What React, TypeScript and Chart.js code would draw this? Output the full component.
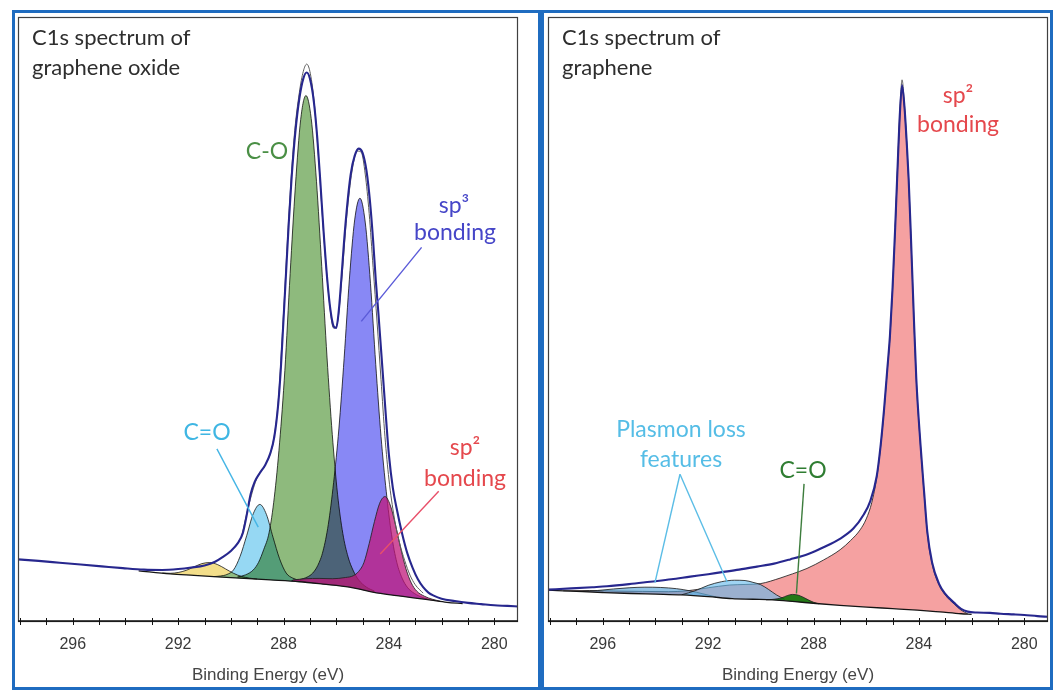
import React, { useEffect, useRef } from 'react';
import { Chart, registerables } from 'chart.js';

Chart.register(...registerables);

// ---------- axis ----------
const xMin = 279.1;
const xMax = 298.08;
const xTickValues = [280, 281, 282, 283, 284, 285, 286, 287, 288, 289, 290, 291, 292, 293, 294, 295, 296, 297, 298];
const xTickLabels = [280, 284, 288, 292, 296];
const xTitle = 'Binding Energy (eV)';

// ---------- graphene oxide (left panel) ----------
const goEnvelopeE = [298.08, 297.3, 296.5, 295.7, 294.9, 294.1, 293.3, 292.6, 292.0, 291.5, 291.0, 290.6, 290.3, 290.0, 289.75, 289.55, 289.4, 289.25, 289.1, 288.9, 288.7, 288.5, 288.35, 288.2, 288.1, 288.0, 287.9, 287.8, 287.7, 287.55, 287.4, 287.25, 287.12, 287.0, 286.85, 286.72, 286.6, 286.48, 286.35, 286.22, 286.1, 286.0, 285.9, 285.8, 285.7, 285.58, 285.45, 285.3, 285.15, 285.0, 284.85, 284.72, 284.6, 284.5, 284.4, 284.3, 284.2, 284.1, 284.0, 283.85, 283.7, 283.5, 283.3, 283.1, 282.9, 282.7, 282.5, 282.3, 282.0, 281.5, 281.0, 280.5, 280.0, 279.5, 279.1];
const goEnvelopeI = [10.2, 9.95, 9.65, 9.35, 9.05, 8.75, 8.5, 8.45, 8.6, 8.85, 9.2, 9.8, 10.6, 11.6, 12.8, 14.5, 17.5, 21.0, 23.0, 24.5, 25.8, 27.8, 30.5, 36, 42, 50, 58, 66, 73, 81, 86.5, 89.8, 90.8, 89.8, 86, 80, 72.5, 64.5, 57, 51.5, 48.8, 48.5, 51.5, 57, 63, 69, 74, 77, 78.2, 77.5, 74.5, 69.5, 63, 56.5, 51, 45, 39, 33, 27.5, 22, 18.5, 14.5, 11.2, 8.8, 6.9, 5.6, 4.7, 4.2, 3.7, 3.3, 3.0, 2.8, 2.6, 2.5, 2.4];

const goFitE = [289.6, 289.3, 289.0, 288.7, 288.4, 288.2, 288.0, 287.8, 287.6, 287.4, 287.25, 287.12, 287.0, 286.85, 286.7, 286.5, 286.3, 286.1, 285.95, 285.8, 285.6, 285.4, 285.2, 285.05, 284.9, 284.75, 284.6, 284.45, 284.3, 284.15, 284.0, 283.8, 283.6, 283.4, 283.2, 283.0, 282.7];
const goFitI = [13.8, 19.5, 23.8, 25.8, 29.5, 36.5, 51, 67, 80, 87.5, 91.0, 92.2, 91.0, 86.5, 78.5, 65.5, 54.5, 48.5, 49.5, 56, 67, 74.5, 77.8, 77.6, 74, 67.5, 58.5, 49.5, 40, 30.5, 23.5, 17.2, 13.0, 10.0, 7.6, 6.0, 4.6];

const goBackgroundE = [293.5, 292.3, 291.4, 290.5, 289.5, 288.5, 287.4, 286.5, 285.5, 285.0, 284.4, 283.7, 283.0, 282.4, 281.8, 281.2];
const goBackgroundI = [8.3, 7.8, 7.55, 7.3, 7.05, 6.8, 6.5, 6.1, 5.6, 5.15, 4.6, 4.2, 3.8, 3.45, 3.1, 2.9];

const goSp2E = [287.65, 287.15, 286.65, 286.15, 285.65, 285.35, 285.15, 284.95, 284.75, 284.55, 284.35, 284.15, 283.95, 283.75, 283.55, 283.35, 283.15, 282.95, 282.65, 282.35, 282.05];
const goSp2I = [6.8, 7.0, 7.05, 7.0, 7.2, 7.5, 8.2, 9.65, 12.8, 16.45, 19.5, 20.6, 19.2, 15.9, 12.0, 8.6, 6.3, 4.97, 4.1, 3.6, 3.28];

const goCdoubleOE = [290.65, 290.4, 290.15, 289.9, 289.65, 289.4, 289.15, 288.9, 288.65, 288.4, 288.15, 287.9, 287.65, 287.4, 287.15];
const goCdoubleOI = [7.35, 7.45, 7.7, 8.45, 10.69, 14.12, 17.76, 19.3, 17.64, 13.87, 10.3, 7.94, 7.1, 6.75, 6.5];

const goCOE = [289.75, 289.45, 289.15, 288.95, 288.75, 288.55, 288.35, 288.15, 287.95, 287.75, 287.55, 287.35, 287.15, 286.95, 286.75, 286.55, 286.35, 286.15, 285.95, 285.75, 285.55, 285.35, 285.15, 284.85, 284.55];
const goCOI = [7.3, 7.63, 8.45, 9.7, 11.86, 14.6, 20.5, 29.5, 41.5, 57.5, 72.0, 83.0, 87.0, 83.2, 72.8, 58.7, 43.7, 30.9, 21.0, 14.5, 10.6, 8.3, 6.8, 5.6, 4.95];

const goSp3E = [287.7, 287.4, 287.1, 286.9, 286.7, 286.5, 286.3, 286.1, 285.9, 285.7, 285.5, 285.3, 285.1, 284.9, 284.7, 284.5, 284.3, 284.1, 283.9, 283.7, 283.5, 283.3, 283.1, 282.8, 282.5];
const goSp3I = [6.66, 6.85, 7.28, 7.9, 9.2, 11.6, 16.0, 22.9, 31.8, 43.5, 56.6, 66.4, 70.0, 66.05, 55.9, 42.5, 30.55, 21.4, 14.3, 9.7, 7.1, 5.58, 4.76, 4.03, 3.6];

const goExtraE = [292.6, 292.3, 292.0, 291.7, 291.4, 291.1, 290.8, 290.5, 290.2, 289.9, 289.6, 289.3, 289.0];
const goExtraI = [7.95, 7.9, 8.03, 8.38, 8.95, 9.5, 9.68, 9.33, 8.62, 7.9, 7.38, 7.1, 6.95];

// ---------- graphene (right panel) ----------
const grEnvelopeE = [298.08, 297.2, 296.4, 295.84, 295.0, 294.2, 293.4, 292.68, 292.0, 291.54, 290.83, 290.15, 289.5, 288.89, 288.2, 287.62, 287.0, 286.49, 286.1, 285.85, 285.6, 285.45, 285.32, 285.2, 285.1, 285.0, 284.9, 284.8, 284.72, 284.64, 284.55, 284.45, 284.39, 284.3, 284.2, 284.1, 283.94, 283.8, 283.68, 283.5, 283.24, 283.0, 282.66, 282.4, 282.15, 281.8, 281.3, 280.9, 280.4, 280.0, 279.5, 279.1];
const grEnvelopeI = [5.2, 5.4, 5.6, 5.75, 6.1, 6.5, 6.9, 7.35, 7.75, 8.05, 8.5, 9.0, 9.5, 10.2, 11.1, 12.2, 13.6, 15.3, 17.6, 19.8, 24.0, 29.2, 35.2, 41.7, 47.2, 55.2, 65.2, 76.2, 84.2, 88.7, 85.2, 78.2, 73.2, 63.2, 51.2, 40.2, 29.2, 21.2, 14.7, 9.7, 6.2, 4.5, 3.0, 2.0, 1.55, 1.4, 1.35, 1.2, 1.1, 1.0, 0.8, 0.7];

const grFitE = [284.9, 284.8, 284.72, 284.64, 284.55, 284.45];
const grFitI = [65.3, 76.5, 84.8, 89.6, 85.5, 78.3];

const grBackgroundE = [298.08, 297.0, 296.0, 294.92, 294.0, 293.0, 292.0, 291.09, 290.3, 289.55, 288.7, 287.9, 287.0, 285.98, 285.0, 284.06, 283.2, 282.4, 282.0];
const grBackgroundI = [5.1, 4.9, 4.72, 4.55, 4.45, 4.33, 4.05, 3.7, 3.6, 3.5, 3.2, 2.9, 2.6, 2.3, 2.05, 1.8, 1.5, 1.2, 1.1];

const grSp2E = [297.5, 296.5, 295.5, 294.5, 293.5, 292.8, 292.0, 291.2, 290.6, 290.0, 289.27, 288.8, 288.25, 287.62, 286.99, 286.6, 286.23, 286.0, 285.79, 285.6, 285.45, 285.32, 285.2, 285.1, 285.0, 284.9, 284.8, 284.72, 284.64, 284.55, 284.45, 284.39, 284.3, 284.2, 284.1, 283.94, 283.8, 283.68, 283.5, 283.24, 283.0, 282.66, 282.4, 282.15];
const grSp2I = [5.0, 5.05, 4.95, 4.9, 4.85, 5.0, 5.5, 5.95, 6.05, 6.2, 7.1, 7.8, 8.7, 10.1, 11.8, 13.3, 15.1, 16.9, 19.6, 23.8, 29.0, 35.0, 41.5, 47.0, 55.0, 65.0, 76.0, 84.0, 88.4, 85.0, 78.0, 73.0, 63.0, 51.0, 40.0, 29.0, 21.0, 14.5, 9.5, 6.0, 4.3, 2.8, 1.8, 1.2];

const grPlasmonAE = [296.8, 296.2, 295.6, 295.0, 294.4, 293.8, 293.2, 292.7, 292.2, 291.7];
const grPlasmonAI = [4.9, 5.05, 5.3, 5.5, 5.6, 5.55, 5.35, 5.0, 4.5, 3.98];

const grPlasmonBE = [293.0, 292.5, 292.0, 291.5, 291.0, 290.6, 290.3, 290.0, 289.7, 289.4, 289.1];
const grPlasmonBI = [4.35, 5.0, 5.9, 6.5, 6.75, 6.7, 6.4, 6.0, 5.2, 4.3, 3.6];

const grCdoubleOE = [289.8, 289.5, 289.2, 289.0, 288.8, 288.6, 288.4, 288.2, 288.0, 287.8];
const grCdoubleOI = [3.5, 3.6, 3.85, 4.2, 4.4, 4.3, 3.95, 3.5, 3.1, 2.85];

// ---------- annotation leader lines (data coordinates) ----------
const goLeaderLines = [
  { e1: 282.76, i1: 61.85, e2: 285.05, i2: 49.6, color: '#5a5ad8' },
  { e1: 290.53, i1: 28.5, e2: 288.96, i2: 15.55, color: '#45b5e5' },
  { e1: 282.11, i1: 21.47, e2: 284.33, i2: 11.09, color: '#e8506a' },
];
const grLeaderLines = [
  { e1: 293.07, i1: 24.3, e2: 294.02, i2: 6.36, color: '#5bbde6' },
  { e1: 293.07, i1: 24.3, e2: 291.28, i2: 6.46, color: '#5bbde6' },
  { e1: 288.36, i1: 22.7, e2: 288.65, i2: 4.55, color: '#3d7d3d' },
];

const pts = (e: number[], v: number[]) => e.map((x, i) => ({ x, y: v[i] }));

const OUTLINE = 'rgba(35,35,35,0.85)';

function lineDs(e: number[], v: number[], color: string, width: number, order: number) {
  return {
    data: pts(e, v),
    borderColor: color,
    borderWidth: width,
    pointRadius: 0,
    fill: false,
    cubicInterpolationMode: 'monotone',
    order,
  };
}
function peakDs(e: number[], v: number[], fillColor: string, order: number) {
  return {
    data: pts(e, v),
    borderColor: OUTLINE,
    borderWidth: 1,
    backgroundColor: fillColor,
    pointRadius: 0,
    fill: 2,
    cubicInterpolationMode: 'monotone',
    order,
  };
}

function goDatasets() {
  return [
    lineDs(goEnvelopeE, goEnvelopeI, '#27278e', 2.1, 0),
    lineDs(goFitE, goFitI, '#5c5c5c', 1, 1),
    lineDs(goBackgroundE, goBackgroundI, '#151515', 1.3, 2),
    peakDs(goSp2E, goSp2I, 'rgba(192,22,122,0.74)', 3),
    peakDs(goCdoubleOE, goCdoubleOI, 'rgb(150,216,243)', 4),
    peakDs(goCOE, goCOI, 'rgb(142,186,125)', 5),
    peakDs(goSp3E, goSp3I, 'rgb(136,136,245)', 6),
    peakDs(goExtraE, goExtraI, 'rgb(243,222,138)', 7),
  ];
}
function grDatasets() {
  return [
    lineDs(grEnvelopeE, grEnvelopeI, '#27278e', 2.1, 0),
    lineDs(grFitE, grFitI, '#5c5c5c', 1, 1),
    lineDs(grBackgroundE, grBackgroundI, '#151515', 1.3, 2),
    peakDs(grCdoubleOE, grCdoubleOI, 'rgba(0,115,0,0.85)', 3),
    peakDs(grPlasmonBE, grPlasmonBI, 'rgba(100,185,235,0.62)', 4),
    peakDs(grPlasmonAE, grPlasmonAI, 'rgba(80,160,215,0.62)', 5),
    peakDs(grSp2E, grSp2I, 'rgba(240,110,110,0.65)', 6),
  ];
}

// the lower component fills combine multiplicatively (as overlapping fills do in the reference);
// from the dataset after `switchAfter` on, normal painting is used again
function makeBlendPlugin(multiply: boolean, switchAfter: number) {
  return {
    id: 'blendFills',
    beforeDatasetsDraw(chart: any) {
      chart.ctx.save();
      if (multiply) chart.ctx.globalCompositeOperation = 'multiply';
    },
    afterDatasetDraw(chart: any, args: any) {
      if (args.index === switchAfter) chart.ctx.globalCompositeOperation = 'source-over';
    },
    afterDatasetsDraw(chart: any) {
      chart.ctx.restore();
    },
  };
}

const framePlugin = {
  id: 'frameTicks',
  afterDraw(chart: any) {
    const { ctx, chartArea: a, scales } = chart;
    const xs = scales.x;
    ctx.save();
    ctx.strokeStyle = '#404040';
    ctx.lineWidth = 1.2;
    ctx.strokeRect(a.left + 0.5, a.top + 0.5, a.right - a.left - 1, a.bottom - a.top);
    ctx.strokeStyle = '#111';
    ctx.lineWidth = 1.5;
    ctx.beginPath();
    ctx.moveTo(a.left, a.bottom);
    ctx.lineTo(a.right, a.bottom);
    ctx.stroke();
    ctx.lineWidth = 1;
    xs.ticks.forEach((t: any) => {
      const px = Math.round(xs.getPixelForValue(t.value)) + 0.5;
      ctx.beginPath();
      ctx.moveTo(px, a.bottom - 3);
      ctx.lineTo(px, a.bottom + 4);
      ctx.stroke();
    });
    ctx.restore();
  },
};

function makeLeaderPlugin(lines: any[]) {
  return {
    id: 'leaders',
    afterDatasetsDraw(chart: any) {
      const { ctx, scales } = chart;
      const xs = scales.x;
      const ys = scales.y;
      ctx.save();
      ctx.globalCompositeOperation = 'source-over';
      ctx.lineWidth = 1.4;
      lines.forEach((l) => {
        ctx.strokeStyle = l.color;
        ctx.beginPath();
        ctx.moveTo(xs.getPixelForValue(l.e1), ys.getPixelForValue(l.i1));
        ctx.lineTo(xs.getPixelForValue(l.e2), ys.getPixelForValue(l.i2));
        ctx.stroke();
      });
      ctx.restore();
    },
  };
}

const AXIS_FONT = 'Liberation Sans, Arial, sans-serif';

function SpectrumChart(props: {
  left: number;
  width: number;
  padRight: number;
  makeData: () => any[];
  leaders: any[];
  multiply: boolean;
  switchAfter: number;
}) {
  const ref = useRef<HTMLCanvasElement>(null);
  useEffect(() => {
    const chart = new Chart(ref.current as HTMLCanvasElement, {
      type: 'line',
      data: { datasets: props.makeData() as any },
      options: {
        responsive: false,
        animation: false,
        devicePixelRatio: 1,
        events: [],
        layout: { padding: { left: 18, top: 17, right: props.padRight, bottom: 0 } },
        plugins: { legend: { display: false }, tooltip: { enabled: false } },
        scales: {
          x: {
            type: 'linear',
            reverse: true,
            min: xMin,
            max: xMax,
            afterBuildTicks: (s: any) => {
              s.ticks = xTickValues.map((v) => ({ value: v }));
            },
            afterFit: (s: any) => {
              s.height = 79;
            },
            grid: { display: false, drawTicks: false },
            border: { display: false },
            ticks: {
              autoSkip: false,
              maxRotation: 0,
              padding: 14,
              color: '#3a3a3a',
              font: { family: AXIS_FONT, size: 16 },
              callback: (v: any) => (xTickLabels.includes(Number(v)) ? String(v) : ''),
            },
            title: {
              display: true,
              text: xTitle,
              color: '#454545',
              font: { family: AXIS_FONT, size: 17 },
              padding: { top: 0, bottom: 14 },
            },
          },
          y: { display: false, min: 0, max: 100 },
        },
      } as any,
      plugins: [makeBlendPlugin(props.multiply, props.switchAfter), framePlugin, makeLeaderPlugin(props.leaders)],
    });
    return () => chart.destroy();
  }, []);
  return (
    <canvas
      ref={ref}
      width={props.width}
      height={700}
      style={{ position: 'absolute', left: props.left, top: 0, width: props.width, height: 700 }}
    />
  );
}

function Label(props: { x: number; y: number; color: string; size?: number; children: React.ReactNode }) {
  return (
    <div
      style={{
        position: 'absolute',
        left: props.x,
        top: props.y,
        transform: 'translate(-50%, -50%)',
        color: props.color,
        fontSize: props.size || 23,
        lineHeight: 1,
        whiteSpace: 'nowrap',
        fontFamily: 'Lato, sans-serif',
      }}
    >
      {props.children}
    </div>
  );
}

function Title(props: { x: number; y: number; children: React.ReactNode }) {
  return (
    <div
      style={{
        position: 'absolute',
        left: props.x,
        top: props.y,
        transform: 'translateY(-50%)',
        color: '#2e2e2e',
        fontSize: 22,
        lineHeight: 1,
        whiteSpace: 'nowrap',
        fontFamily: 'Lato, sans-serif',
      }}
    >
      {props.children}
    </div>
  );
}

const BLUE = '#1f6cc0';

export default function App() {
  return (
    <div style={{ position: 'absolute', left: 0, top: 0, width: 1058, height: 700, background: '#fff', overflow: 'hidden' }}>
      <SpectrumChart left={0} width={540} padRight={22} makeData={goDatasets} leaders={goLeaderLines} multiply={true} switchAfter={4} />
      <SpectrumChart left={530} width={528} padRight={10} makeData={grDatasets} leaders={grLeaderLines} multiply={false} switchAfter={-1} />
      <div style={{ position: 'absolute', left: 12, top: 10, width: 529, height: 680, border: `3px solid ${BLUE}`, boxSizing: 'border-box' }} />
      <div style={{ position: 'absolute', left: 540, top: 10, width: 513, height: 680, border: `3px solid ${BLUE}`, borderLeftWidth: 4, boxSizing: 'border-box' }} />

      <Title x={32} y={37}>C1s spectrum of</Title>
      <Title x={32} y={67}>graphene oxide</Title>
      <Title x={562} y={37}>C1s spectrum of</Title>
      <Title x={562} y={67}>graphene</Title>

      <Label x={267} y={150} color="#4a8f45">C-O</Label>
      <Label x={454} y={204} color="#4646c8">sp³</Label>
      <Label x={455} y={231} color="#4646c8">bonding</Label>
      <Label x={207} y={431} color="#3fb6e3">C=O</Label>
      <Label x={465} y={446} color="#e5484d">sp²</Label>
      <Label x={465} y={477} color="#e5484d">bonding</Label>

      <Label x={958} y={94} color="#e5484d">sp²</Label>
      <Label x={958} y={123} color="#e5484d">bonding</Label>
      <Label x={681} y={428} color="#55bde6">Plasmon loss</Label>
      <Label x={681} y={458} color="#55bde6">features</Label>
      <Label x={803} y={469} color="#2f7d32">C=O</Label>
    </div>
  );
}
